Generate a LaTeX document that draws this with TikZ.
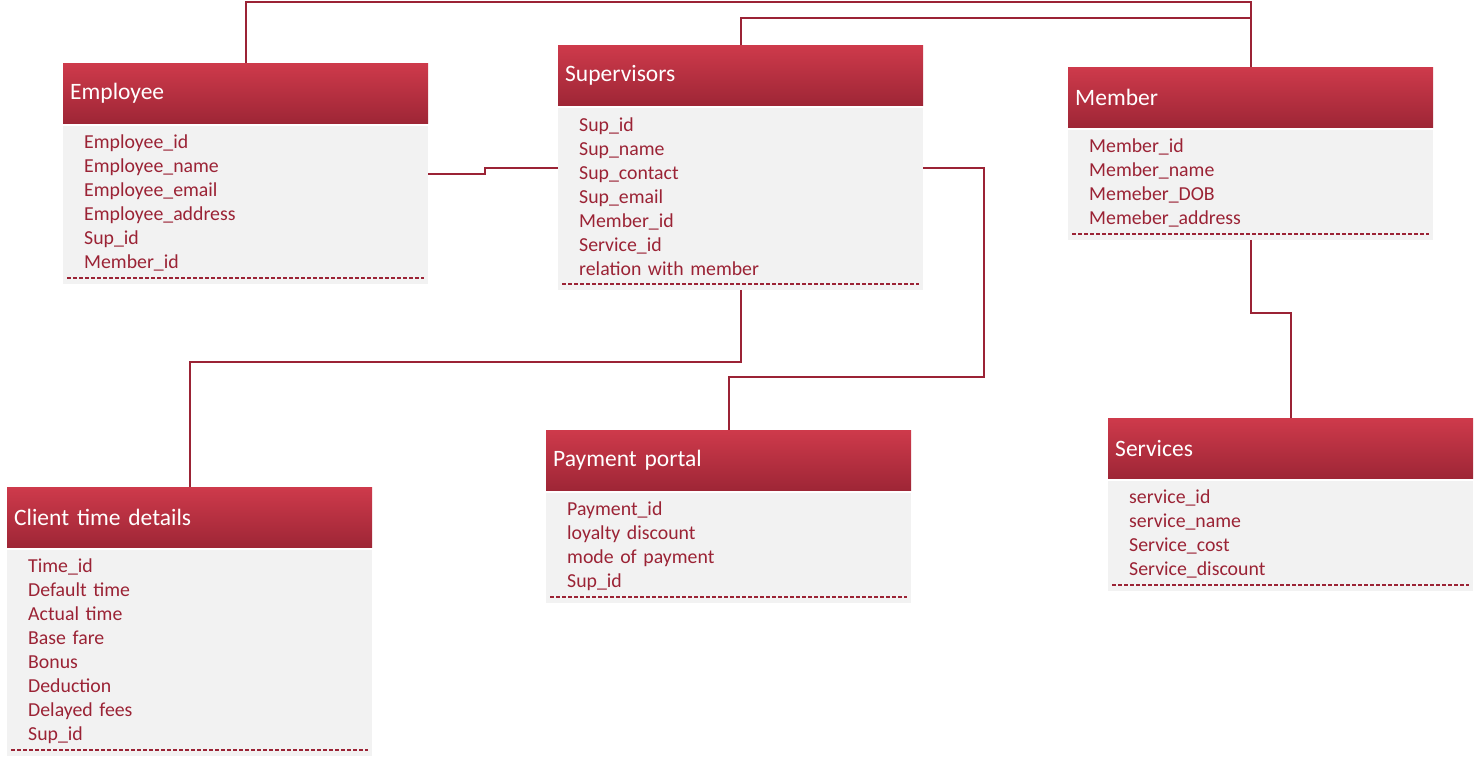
\documentclass[tikz,border=0pt]{standalone}
\usepackage{fontspec}
\setmainfont{Carlito}
\usetikzlibrary{calc}
\definecolor{hdtop}{HTML}{CE3A4B}
\definecolor{hdbot}{HTML}{9E2636}
\definecolor{dred}{HTML}{9B2335}
\definecolor{bodyfill}{HTML}{F2F2F2}
\tikzset{
  hdr/.style={rectangle, minimum width=365pt, minimum height=60pt, text width=351pt,
    inner xsep=7pt, inner ysep=0pt, align=left, top color=hdtop, bottom color=hdbot,
    draw=none, text=white, font=\fontsize{23.5}{27}\selectfont, anchor=north west},
  bdy/.style={rectangle, minimum width=365pt, text width=323pt, inner xsep=21pt,
    inner ysep=0pt, align=left, fill=bodyfill, draw=none, text=dred,
    font=\fontsize{19.8}{24}\selectfont, anchor=north west},
  link/.style={draw=dred, line width=2pt},
  sepline/.style={draw=dred, line width=1.6pt, dash pattern=on 4pt off 2pt}
}
\newcommand\ertab[6]{%
  \node[hdr] (#1) at (#2,#3) {#4};
  \node[bdy, minimum height={(24*#5+14)*1pt}] (#1b) at ([yshift=-2pt]#1.south west) {#6\par\vspace*{3pt}};
  \draw[sepline] ([xshift=4pt,yshift=6pt]#1b.south west) -- ([xshift=-4pt,yshift=6pt]#1b.south east);
}
\begin{document}
\begin{tikzpicture}[x=1pt,y=-1pt]
\useasboundingbox (0,0) rectangle (1477,759);
\ertab{emp}{63}{63}{Employee}{6}{Employee\_id\\Employee\_name\\Employee\_email\\Employee\_address\\Sup\_id\\Member\_id}
\ertab{sup}{558}{45}{Supervisors}{7}{Sup\_id\\Sup\_name\\Sup\_contact\\Sup\_email\\Member\_id\\Service\_id\\relation with member}
\ertab{mem}{1068}{67}{Member}{4}{Member\_id\\Member\_name\\Memeber\_DOB\\Memeber\_address}
\ertab{svc}{1108}{418}{Services}{4}{service\_id\\service\_name\\Service\_cost\\Service\_discount}
\ertab{pay}{546}{430}{Payment portal}{4}{Payment\_id\\loyalty discount\\mode of payment\\Sup\_id}
\ertab{cli}{7}{487}{Client time details}{8}{Time\_id\\Default time\\Actual time\\Base fare\\Bonus\\Deduction\\Delayed fees\\Sup\_id}
% routing coordinates
\coordinate (top1) at (0,2);
\coordinate (top2) at (0,18);
\coordinate (es) at (485,0);
\coordinate (pr) at (984,377);
\coordinate (sc) at (0,362);
\coordinate (ms) at (0,313);
\coordinate (eR) at ([yshift=31pt]empb.east);
\coordinate (sL) at ([yshift=30.5pt]supb.west);
\coordinate (sR) at ([yshift=30.5pt]supb.east);
% connectors
\draw[link] (emp.north) -- (emp.north |- top1) -| (mem.north);
\draw[link] (sup.north) -- (sup.north |- top2) -| (mem.north);
\draw[link] (eR) -- (eR -| es) -- (sL -| es) -- (sL);
\draw[link] (sR) -| (pr) -| (pay.north);
\draw[link] (supb.south) -- (supb.south |- sc) -| (cli.north);
\draw[link] (memb.south) -- (memb.south |- ms) -| (svc.north);
\end{tikzpicture}
\end{document}
